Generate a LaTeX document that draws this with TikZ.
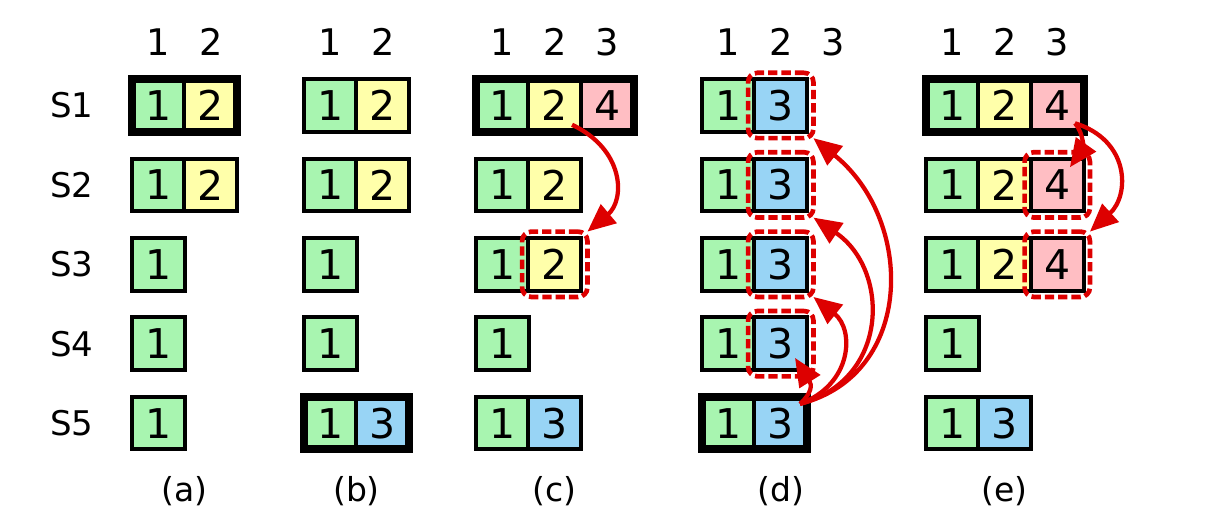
\documentclass[tikz,border=0pt]{standalone}
\usepackage{fontspec}
\setmainfont{DejaVu Sans}
\usetikzlibrary{arrows.meta}
\definecolor{cg}{RGB}{168,245,176}
\definecolor{cy}{RGB}{255,255,170}
\definecolor{cp}{RGB}{255,190,195}
\definecolor{cb}{RGB}{152,212,245}
\definecolor{ared}{RGB}{221,0,0}
\tikzset{
  cell/.style={draw, line width=3pt, minimum width=39.4pt, minimum height=39.4pt, inner sep=0pt, outer sep=0pt, font=\fontsize{30.75}{36}\selectfont},
  leader/.style={draw, line width=6pt},
  pending/.style={draw=ared, line width=3.5pt, dash pattern=on 7pt off 3pt, rounded corners=7pt, minimum width=49pt, minimum height=49pt, inner sep=0pt, outer sep=0pt},
  push/.style={draw=ared, line width=3.2pt, -{Triangle[length=21pt,width=18pt]}},
  head/.style={font=\fontsize{27.5}{32}\selectfont},
  srv/.style={font=\fontsize{25.5}{30}\selectfont},
  caption/.style={font=\fontsize{24.75}{30}\selectfont}
}
\newcommand{\logrow}[4]{\foreach \val/\col [count=\i] in {#4}
  \node[cell, fill=\col] (#1-#2-\i) at ({#3+52.5*(\i-0.5)}, {105.5+79.4*(#2-1)}) {\val};}
\newcommand{\heads}[3]{\foreach \c in {1,...,#3}
  \node[head] (h#1-\c) at ({#2+52.5*(\c-0.5)}, 42) {\c};}

\begin{document}
\begin{tikzpicture}[x=0.75pt, y=-0.75pt]
    \useasboundingbox (0,0) rectangle (1218,520);

    \foreach \s in {1,...,5}
        \node[srv] (s\s) at (72, {105.5+79.4*(\s-1)}) {S\s};

    \heads{a}{132}{2}
    \heads{b}{304}{2}
    \heads{c}{476}{3}
    \heads{d}{702}{3}
    \heads{e}{926}{3}

    \logrow{a}{1}{132}{1/cg,2/cy}
    \logrow{a}{2}{132}{1/cg,2/cy}
    \logrow{a}{3}{132}{1/cg}
    \logrow{a}{4}{132}{1/cg}
    \logrow{a}{5}{132}{1/cg}
    \draw[leader] (a-1-1.north west) rectangle (a-1-2.south east);

    \logrow{b}{1}{304}{1/cg,2/cy}
    \logrow{b}{2}{304}{1/cg,2/cy}
    \logrow{b}{3}{304}{1/cg}
    \logrow{b}{4}{304}{1/cg}
    \logrow{b}{5}{304}{1/cg,3/cb}
    \draw[leader] (b-5-1.north west) rectangle (b-5-2.south east);

    \logrow{c}{1}{476}{1/cg,2/cy,4/cp}
    \logrow{c}{2}{476}{1/cg,2/cy}
    \logrow{c}{3}{476}{1/cg,2/cy}
    \logrow{c}{4}{476}{1/cg}
    \logrow{c}{5}{476}{1/cg,3/cb}
    \draw[leader] (c-1-1.north west) rectangle (c-1-3.south east);
    \node[pending] (pc-3) at (c-3-2) {};

    \logrow{d}{1}{702}{1/cg,3/cb}
    \logrow{d}{2}{702}{1/cg,3/cb}
    \logrow{d}{3}{702}{1/cg,3/cb}
    \logrow{d}{4}{702}{1/cg,3/cb}
    \logrow{d}{5}{702}{1/cg,3/cb}
    \draw[leader] (d-5-1.north west) rectangle (d-5-2.south east);
    \foreach \r in {1,...,4}
        \node[pending] (pd-\r) at (d-\r-2) {};

    \logrow{e}{1}{926}{1/cg,2/cy,4/cp}
    \logrow{e}{2}{926}{1/cg,2/cy,4/cp}
    \logrow{e}{3}{926}{1/cg,2/cy,4/cp}
    \logrow{e}{4}{926}{1/cg}
    \logrow{e}{5}{926}{1/cg,3/cb}
    \draw[leader] (e-1-1.north west) rectangle (e-1-3.south east);
    \node[pending] (pe-2) at (e-2-3) {};
    \node[pending] (pe-3) at (e-3-3) {};

    \draw[push] ([shift={(-9,-7)}]c-1-2.south east) .. controls +(53,25) and +(37.5,-31.5) .. (pc-3.north east);

    \draw[push] ([shift={(-7,7)}]d-5-2.north east) .. controls +(12,-11) and +(17,27) .. ([shift={(-12,-12)}]d-4-2.south east);
    \draw[push] ([shift={(-7,7)}]d-5-2.north east) .. controls +(52,-19) and +(41.5,33) .. (pd-3.south east);
    \draw[push] ([shift={(-7,7)}]d-5-2.north east) .. controls +(90,-24) and +(76.5,52) .. (pd-2.south east);
    \draw[push] ([shift={(-7,7)}]d-5-2.north east) .. controls +(115,-29) and +(101.5,82) .. (pd-1.south east);

    \draw[push] ([shift={(-8.5,-8.5)}]e-1-3.south east) .. controls +(10,12) and +(12,-17) .. ([shift={(-20,15)}]pe-2.north east);
    \draw[push] ([shift={(-8.5,-8.5)}]e-1-3.south east) .. controls +(55,17) and +(40,-36.5) .. (pe-3.north east);

    \node[caption] (capa) at (184.5,491) {(a)};
    \node[caption] (capb) at (356.5,491) {(b)};
    \node[caption] (capc) at (554.75,491) {(c)};
    \node[caption] (capd) at (780.75,491) {(d)};
    \node[caption] (cape) at (1004.75,491) {(e)};
\end{tikzpicture}
\end{document}
